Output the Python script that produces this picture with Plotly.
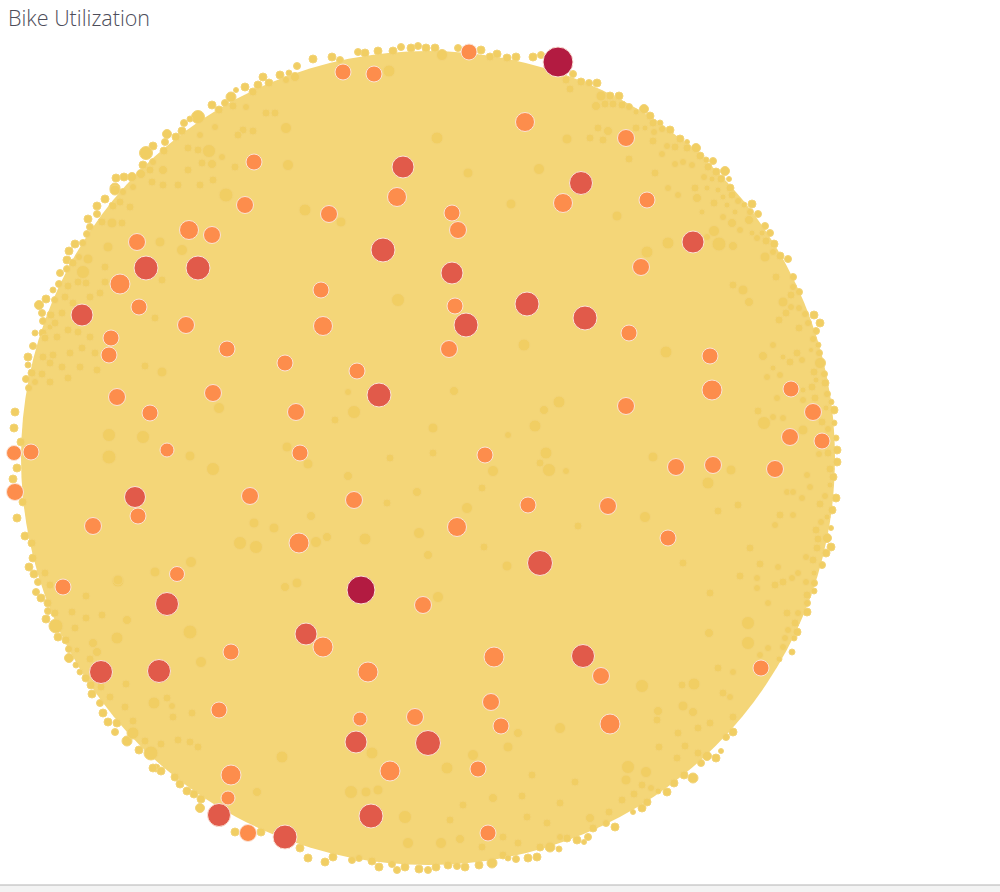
import plotly.graph_objects as go

title_text = "Bike Utilization"

# every bubble is (x, y, diameter)
crimson_bubbles = [(558, 62, 30), (361, 590, 28)]

red_bubbles = [
    (403, 167, 22), (581, 183, 23), (693, 242, 22), (383, 250, 24), (146, 268, 24), (198, 268, 24),
    (452, 273, 22), (82, 315, 22), (527, 304, 24), (585, 318, 24), (466, 325, 24), (379, 395, 24),
    (135, 497, 21), (540, 563, 25), (167, 604, 23), (306, 634, 22), (583, 656, 23), (101, 672, 23),
    (159, 671, 23), (356, 742, 22), (428, 743, 25), (219, 815, 23), (371, 816, 24), (285, 837, 24),
]

orange_bubbles = [
    (343, 72, 16), (374, 74, 16), (469, 52, 16), (525, 122, 19), (626, 138, 17), (254, 162, 16),
    (397, 197, 19), (563, 203, 19), (647, 200, 16), (245, 205, 17), (329, 214, 17), (452, 213, 16),
    (458, 230, 17), (189, 230, 19), (212, 235, 17), (137, 242, 17), (641, 267, 17), (120, 284, 20),
    (321, 290, 16), (139, 307, 16), (455, 306, 16), (186, 325, 17), (323, 326, 19), (629, 333, 16),
    (111, 338, 16), (227, 349, 16), (449, 349, 17), (109, 355, 16), (710, 356, 16), (285, 363, 16),
    (357, 371, 16), (712, 390, 20), (791, 389, 16), (117, 397, 17), (213, 393, 17), (150, 413, 16),
    (296, 412, 17), (626, 406, 17), (813, 412, 17), (790, 437, 17), (822, 441, 16), (14, 453, 15),
    (31, 452, 16), (167, 450, 14), (300, 453, 16), (485, 455, 16), (676, 467, 17), (713, 465, 17),
    (775, 469, 17), (15, 492, 17), (250, 496, 17), (354, 500, 17), (138, 516, 16), (93, 526, 17),
    (528, 505, 16), (608, 506, 17), (457, 527, 19), (299, 543, 20), (668, 538, 16), (177, 574, 15),
    (63, 587, 16), (423, 605, 17), (231, 652, 16), (323, 647, 20), (368, 672, 20), (494, 657, 20),
    (601, 676, 17), (761, 668, 16), (491, 702, 17), (219, 710, 16), (360, 719, 14), (415, 717, 17),
    (501, 726, 16), (610, 724, 20), (390, 771, 20), (478, 769, 16), (231, 775, 20), (228, 798, 14),
    (248, 833, 17), (488, 833, 16),
]

# stands in for the dense field of small bubbles that is not transcribed
field_disc = [(428, 458, 814)]

yellow_top = [
    (313, 59, 8), (332, 57, 8), (340, 60, 7), (358, 52, 7), (365, 53, 8), (378, 51, 8), (393, 51, 8),
    (401, 47, 7), (411, 48, 8), (418, 46, 7), (426, 48, 8), (435, 48, 8), (442, 55, 11), (458, 48, 7),
    (481, 50, 8), (490, 57, 8), (497, 54, 8), (507, 58, 8), (516, 57, 8), (533, 57, 8), (541, 55, 7),
    (573, 74, 7), (581, 82, 8), (589, 83, 7), (597, 83, 8), (263, 77, 8), (269, 83, 8), (280, 75, 8),
    (286, 80, 7), (289, 73, 6), (295, 77, 9), (297, 66, 7), (245, 87, 8), (253, 92, 8), (258, 85, 8),
    (236, 90, 5), (231, 97, 10), (225, 103, 7), (219, 110, 8), (212, 105, 8), (198, 117, 13), (190, 119, 6),
    (184, 123, 7), (182, 131, 8), (167, 134, 9), (165, 142, 7), (164, 151, 8), (153, 146, 8), (153, 162, 7),
    (146, 153, 13), (143, 165, 8), (141, 174, 9), (132, 177, 9), (124, 177, 8), (116, 178, 8), (115, 188, 10),
    (115, 190, 10), (105, 199, 8), (97, 206, 8), (97, 214, 7), (88, 219, 8), (90, 227, 7), (87, 234, 7),
    (83, 243, 7), (75, 244, 8), (69, 251, 8), (67, 260, 8), (79, 257, 7), (60, 273, 7), (67, 269, 7),
]

yellow_left = [
    (59, 284, 7), (68, 286, 8), (53, 290, 6), (46, 299, 8), (39, 305, 9), (55, 300, 7), (42, 313, 7),
    (51, 315, 8), (43, 321, 7), (50, 327, 6), (35, 333, 6), (43, 333, 8), (33, 346, 7), (28, 357, 8),
    (43, 357, 8), (28, 365, 6), (32, 373, 8), (26, 379, 7), (35, 382, 7), (29, 388, 7), (15, 412, 8),
    (14, 428, 8), (21, 442, 8), (17, 468, 8), (13, 479, 8), (23, 502, 8), (17, 518, 8), (25, 536, 8),
    (32, 543, 8), (33, 558, 8), (29, 567, 8), (34, 574, 8), (38, 582, 7), (45, 573, 8), (36, 592, 7),
    (41, 598, 8), (48, 603, 8), (50, 585, 8), (48, 611, 7), (46, 619, 8), (56, 626, 14), (58, 637, 8),
    (66, 640, 8), (69, 649, 7), (77, 650, 6), (69, 658, 9), (76, 665, 6), (80, 672, 6), (86, 678, 8),
    (91, 685, 8), (92, 694, 8), (100, 703, 7), (103, 713, 8), (108, 722, 8), (115, 732, 7), (127, 741, 10),
    (139, 750, 8), (151, 753, 14), (156, 768, 8), (153, 768, 8), (161, 771, 8), (175, 777, 8), (180, 784, 8),
    (187, 791, 8), (194, 794, 8), (201, 799, 8), (200, 808, 9),
]

yellow_bottom = [
    (235, 832, 8), (261, 832, 8), (300, 848, 8), (308, 858, 8), (325, 862, 8), (333, 857, 8), (352, 860, 7),
    (359, 858, 7), (372, 861, 8), (379, 867, 8), (392, 864, 7), (397, 870, 7), (405, 867, 8), (419, 869, 8),
    (428, 870, 7), (436, 867, 8), (448, 865, 8), (457, 866, 7), (465, 867, 8), (479, 865, 8), (492, 863, 10),
    (503, 855, 8), (508, 858, 6), (516, 859, 7), (528, 858, 8), (537, 857, 8), (540, 847, 8), (550, 847, 10),
    (559, 849, 6), (567, 838, 8), (577, 840, 8), (584, 842, 5), (588, 837, 7), (593, 828, 8), (606, 823, 7),
    (615, 827, 8), (633, 812, 5), (634, 794, 8), (642, 808, 8), (647, 802, 8), (651, 788, 7), (658, 791, 6),
    (667, 792, 8), (674, 783, 8), (684, 775, 8), (693, 778, 10), (701, 763, 7), (707, 756, 9), (716, 758, 8),
    (721, 751, 5), (726, 737, 7), (733, 732, 8),
]

yellow_right = [
    (610, 96, 8), (619, 96, 8), (601, 96, 10), (629, 107, 7), (644, 109, 9), (636, 112, 6), (650, 116, 8),
    (653, 123, 8), (660, 123, 6), (670, 130, 8), (662, 129, 7), (680, 139, 8), (687, 142, 5), (696, 148, 9),
    (687, 148, 8), (700, 156, 8), (706, 160, 6), (713, 161, 7), (708, 167, 8), (716, 172, 8), (725, 171, 9),
    (721, 179, 8), (729, 179, 5), (730, 188, 8), (732, 195, 8), (738, 201, 7), (744, 205, 6), (752, 204, 8),
    (750, 212, 7), (758, 214, 7), (749, 220, 9), (765, 226, 7), (770, 233, 7), (762, 233, 6), (766, 241, 8),
    (774, 244, 8), (757, 238, 7), (773, 252, 7), (780, 256, 8), (788, 259, 7), (765, 257, 10), (793, 277, 7),
    (793, 287, 7), (799, 292, 7), (791, 295, 8), (783, 302, 10), (791, 307, 7), (799, 308, 7), (805, 314, 7),
    (814, 315, 8), (808, 323, 7), (820, 323, 8), (816, 331, 7), (799, 328, 8), (813, 339, 7), (818, 345, 6),
    (811, 350, 5), (819, 353, 7), (820, 363, 11), (814, 372, 8), (824, 374, 7), (816, 380, 6), (825, 383, 8),
    (812, 387, 8), (827, 394, 7), (815, 398, 8), (831, 402, 6), (834, 410, 8), (826, 408, 6), (822, 422, 8),
    (834, 423, 6), (828, 429, 7), (803, 430, 10), (836, 438, 6), (837, 450, 8), (828, 453, 8), (819, 454, 7),
    (837, 462, 8), (830, 469, 8), (833, 477, 8), (830, 485, 6), (836, 498, 8), (825, 496, 7), (832, 510, 8),
    (820, 504, 8), (827, 517, 6), (821, 522, 7), (831, 528, 5), (816, 530, 8), (827, 538, 9), (818, 539, 8),
    (831, 547, 8), (826, 553, 8), (817, 548, 8), (822, 565, 7), (813, 560, 8), (806, 557, 7), (814, 573, 6),
    (814, 583, 7), (806, 582, 7), (814, 591, 6), (807, 595, 8), (807, 603, 7), (807, 612, 8), (798, 613, 7),
    (795, 623, 8), (797, 632, 8), (788, 630, 7), (794, 638, 6), (785, 638, 7), (792, 652, 6), (783, 647, 7),
    (779, 659, 6), (768, 648, 7), (760, 655, 7),
]

yellow_large = [
    (209, 151, 13), (226, 195, 14), (286, 128, 11), (288, 165, 11), (389, 71, 12), (437, 138, 12), (567, 139, 10),
    (511, 204, 10), (468, 173, 10), (539, 169, 11), (341, 222, 10), (305, 210, 12), (109, 435, 13), (143, 437, 13),
    (109, 457, 14), (213, 469, 13), (190, 456, 10), (287, 447, 10), (219, 408, 11), (240, 543, 13), (256, 547, 13),
    (191, 562, 11), (254, 523, 10), (274, 528, 10), (155, 572, 10), (351, 792, 13), (366, 792, 10), (378, 790, 10),
    (405, 817, 13), (441, 843, 11), (408, 843, 11), (282, 757, 12), (372, 753, 12), (257, 792, 9), (714, 231, 11),
    (719, 244, 14), (668, 243, 12), (647, 252, 12), (608, 131, 9), (617, 216, 10), (743, 290, 10), (749, 302, 9),
    (666, 352, 12), (653, 457, 10), (764, 423, 13), (748, 623, 13), (748, 643, 13), (708, 483, 12), (731, 470, 10),
    (645, 517, 11), (642, 686, 13), (694, 684, 12), (628, 767, 13), (646, 772, 11), (626, 780, 10), (683, 706, 10),
    (658, 711, 9), (560, 728, 11), (508, 747, 10), (473, 755, 11), (447, 768, 12), (117, 638, 12), (190, 632, 14),
    (201, 662, 11), (118, 581, 12), (154, 703, 12), (133, 733, 12), (112, 223, 10), (108, 247, 10), (88, 259, 10),
    (83, 272, 13), (160, 242, 10), (182, 250, 11), (162, 372, 10), (354, 412, 13), (433, 428, 10), (559, 402, 12),
    (535, 426, 12), (546, 453, 12), (549, 470, 13), (493, 471, 11), (467, 508, 11), (365, 539, 12), (316, 542, 11),
    (327, 537, 9), (419, 533, 11), (311, 516, 9), (507, 566, 10), (428, 555, 9), (348, 476, 9), (308, 464, 10),
    (454, 391, 9), (544, 410, 9), (417, 492, 9), (398, 300, 13), (524, 345, 12), (438, 597, 11), (297, 583, 10),
    (285, 587, 9), (118, 580, 10),
]

yellow_medium = [
    (566, 80, 8), (570, 89, 8), (596, 106, 9), (605, 104, 8), (613, 104, 8), (622, 105, 8), (598, 128, 8),
    (590, 138, 8), (603, 140, 8), (636, 128, 8), (645, 128, 6), (654, 132, 7), (653, 141, 8), (667, 146, 7),
    (675, 147, 8), (662, 154, 7), (683, 162, 7), (692, 165, 7), (655, 173, 8), (675, 164, 7), (704, 177, 7),
    (712, 179, 6), (695, 188, 8), (707, 188, 6), (718, 190, 6), (678, 195, 7), (668, 188, 7), (714, 203, 8),
    (723, 197, 6), (727, 205, 6), (735, 212, 6), (702, 212, 6), (723, 217, 7), (697, 198, 9), (732, 223, 9),
    (733, 246, 9), (629, 159, 8), (740, 230, 7), (752, 233, 6), (707, 237, 7), (733, 285, 8), (786, 313, 8),
    (779, 320, 8), (776, 277, 8), (763, 356, 9), (758, 411, 8), (773, 345, 7), (790, 362, 8), (802, 360, 7),
    (797, 353, 8), (783, 357, 6), (773, 368, 6), (803, 390, 6), (777, 398, 7), (780, 375, 7), (803, 400, 7),
    (783, 418, 7), (773, 417, 7), (767, 377, 7), (738, 505, 8), (718, 511, 8), (760, 564, 8), (750, 548, 8),
    (683, 563, 8), (710, 593, 8), (740, 576, 8), (709, 633, 9), (775, 585, 8), (783, 582, 8), (787, 613, 8),
    (757, 578, 7), (757, 588, 7), (768, 603, 7), (778, 567, 7), (792, 578, 7), (798, 573, 7), (787, 492, 7),
    (793, 492, 7), (802, 498, 7), (810, 487, 7), (807, 475, 7), (780, 515, 8), (793, 515, 7), (775, 525, 7),
    (518, 733, 9), (710, 723, 8), (733, 717, 8), (723, 693, 8), (730, 697, 7), (718, 668, 8), (733, 672, 7),
    (682, 685, 8), (657, 720, 8), (693, 712, 9), (698, 728, 8), (678, 733, 8), (685, 746, 8), (698, 753, 8),
    (677, 758, 8), (659, 747, 8), (642, 785, 8), (622, 800, 8), (609, 812, 8), (575, 782, 8), (560, 803, 8),
    (522, 796, 8), (463, 805, 8), (493, 798, 9), (532, 775, 8), (527, 817, 8), (590, 818, 9), (560, 837, 7),
    (547, 823, 8), (518, 843, 8), (460, 839, 9), (482, 847, 8), (503, 837, 8), (450, 820, 8), (130, 207, 8),
    (120, 202, 8), (113, 206, 8), (102, 222, 8), (122, 223, 8), (145, 366, 8), (155, 318, 8), (162, 280, 8),
    (73, 263, 8), (78, 282, 8), (86, 283, 8), (105, 267, 8), (105, 282, 8), (100, 293, 8), (90, 297, 8),
    (65, 297, 8), (73, 303, 8), (62, 313, 8), (55, 323, 8), (68, 330, 8), (57, 337, 8), (78, 332, 8),
    (90, 337, 8), (45, 338, 8), (70, 353, 8), (53, 355, 8), (82, 348, 8), (95, 353, 8), (62, 367, 8),
    (50, 363, 8), (80, 367, 8), (97, 370, 8), (68, 378, 8), (42, 374, 8), (50, 382, 8), (127, 620, 9),
    (86, 618, 8), (55, 613, 8), (93, 643, 9), (97, 652, 9), (90, 659, 8), (117, 723, 8), (133, 721, 8),
    (125, 707, 8), (110, 697, 8), (126, 684, 8), (101, 687, 8), (145, 741, 8), (161, 744, 8), (178, 740, 8),
    (173, 717, 8), (172, 706, 7), (167, 698, 8), (192, 713, 8), (198, 747, 8), (190, 742, 8), (75, 628, 8),
    (86, 596, 8), (72, 612, 8), (102, 615, 8), (198, 150, 8), (188, 148, 8), (212, 164, 9), (202, 163, 8),
    (222, 157, 7), (235, 167, 8), (243, 130, 8), (238, 135, 8), (253, 131, 8), (266, 113, 8), (275, 113, 8),
    (246, 107, 7), (233, 106, 8), (215, 127, 7), (200, 135, 7), (176, 137, 8), (163, 170, 9), (150, 170, 8),
    (188, 170, 8), (213, 180, 8), (200, 185, 8), (178, 185, 8), (163, 185, 8), (152, 182, 8), (133, 187, 7),
    (123, 192, 7), (390, 458, 8), (433, 453, 8), (335, 420, 8), (348, 392, 7), (508, 435, 7), (578, 526, 8),
    (484, 547, 8), (566, 471, 7), (540, 463, 8), (482, 488, 8), (387, 503, 8),
]


def columns(bubbles):
    return [b[0] for b in bubbles], [b[1] for b in bubbles], [b[2] for b in bubbles]


fig = go.Figure()

x, y, d = columns(field_disc)
fig.add_trace(go.Scatter(x=x, y=y, mode="markers", marker={
    "size": d, "color": "#f4d678", "opacity": 1, "line": {"width": 0}
}))

x, y, d = columns(yellow_top + yellow_left + yellow_bottom + yellow_right + yellow_medium + yellow_large)
fig.add_trace(go.Scatter(x=x, y=y, mode="markers", marker={
    "size": d, "color": "#f1ce63", "opacity": 1, "line": {"width": 1, "color": "#f3d478"}
}))

for bubbles, colour in [
    (orange_bubbles, "#fd8d4c"),
    (red_bubbles, "#e15a4a"),
    (crimson_bubbles, "#b31b41"),
]:
    x, y, d = columns(bubbles)
    fig.add_trace(go.Scatter(x=x, y=y, mode="markers", marker={
        "size": d, "color": colour, "opacity": 1, "line": {"width": 1, "color": "#fbe3d6"}
    }))

fig.add_shape(type="rect", xref="paper", yref="paper", x0=0, x1=1, y0=0, y1=7 / 892,
              fillcolor="#f3f3f3", line={"width": 0}, layer="below")
fig.add_shape(type="line", xref="paper", yref="paper", x0=0, x1=1, y0=7 / 892, y1=7 / 892,
              line={"width": 1, "color": "#b3b3b3"})

fig.update_layout(
    width=1000,
    height=892,
    margin={"l": 0, "r": 0, "t": 0, "b": 0},
    paper_bgcolor="#ffffff",
    plot_bgcolor="rgba(0,0,0,0)",
    showlegend=False,
    hovermode=False,
    title={
        "text": title_text,
        "x": 8 / 1000,
        "xanchor": "left",
        "y": 1 - 18 / 892,
        "yanchor": "middle",
        "font": {"family": "Open Sans", "size": 21.5, "color": "#4d4d5a", "weight": 300},
    },
    xaxis={"range": [0, 1000], "visible": False},
    yaxis={"range": [892, 0], "visible": False},
)

# drop the browser's default body margin so the figure fills the window
fig.write_html(
    "out.html",
    config={"displayModeBar": False},
    post_script="document.body.style.margin = '0';",
)
